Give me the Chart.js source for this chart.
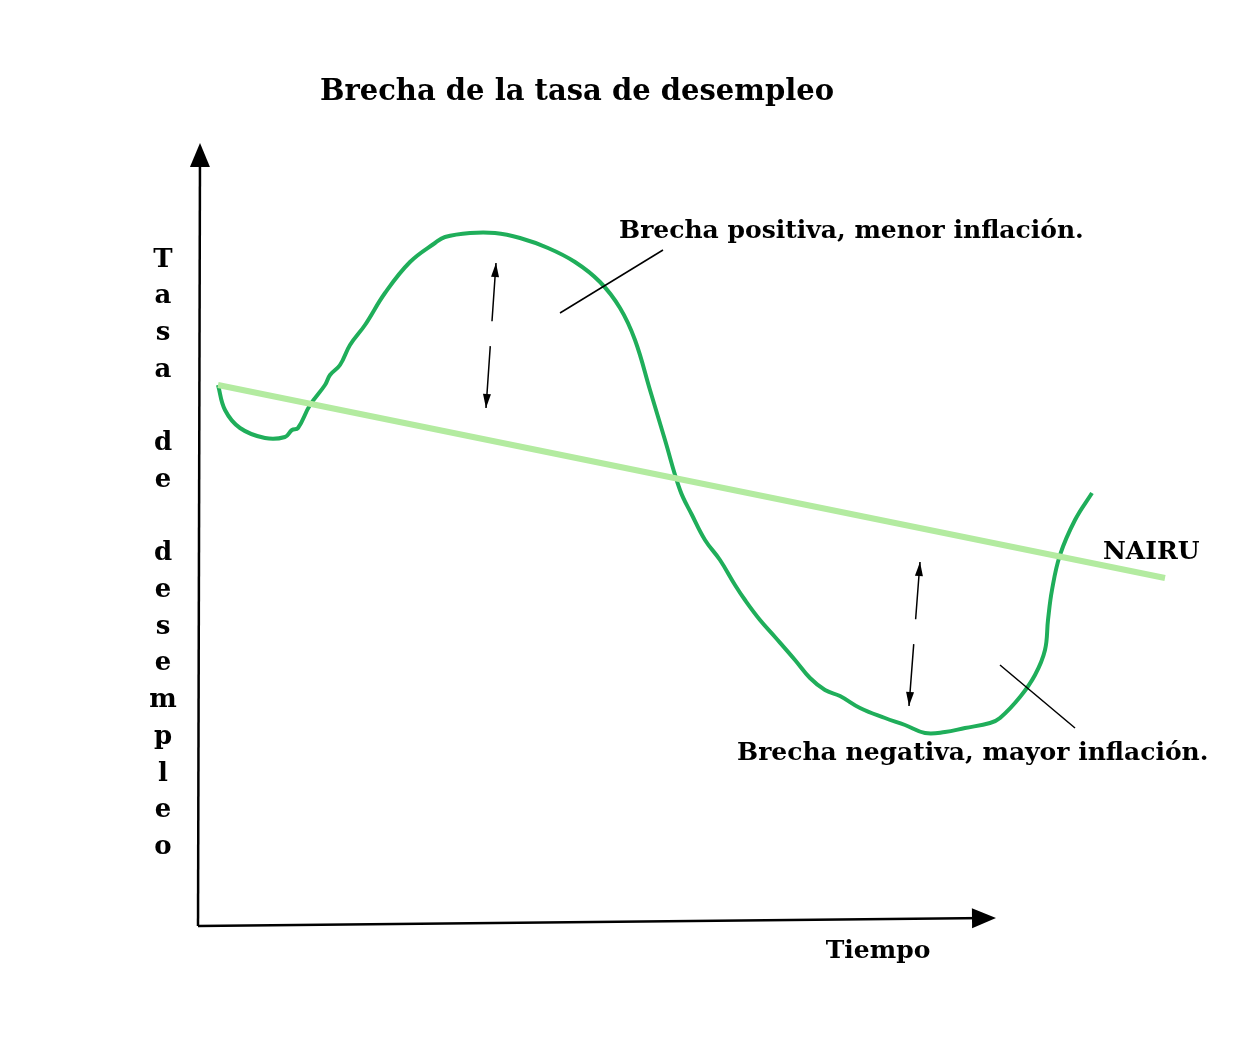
<!DOCTYPE html>
<html><head><meta charset="utf-8">
<script src="https://cdn.jsdelivr.net/npm/chart.js@4"></script>
<style>body{margin:0;background:#fff}</style>
</head><body>
<canvas id="c" width="1242" height="1048"></canvas>
<script>
// Tiempo vs tasa (unidades arbitrarias)
const curveX = [20,27,42,67,87,94,100,112,127,132,142,152,167,187,212,237,247,272,297,322,350,377,402,422,437,452,467,482,494,507,522,537,547,562,577,597,612,627,642,662,687,707,727,747,767,792,802,822,837,847,850,854,862,877,894];
const curveY = [540,515,497,487,488,495,497,520,540,550,560,580,600,632,663,682,688,692,692,687,677,663,643,617,585,535,485,435,410,385,365,340,325,305,288,265,247,235,229,217,207,200,192,193,197,202,207,228,250,275,305,335,370,405,432];
const nairuX = [20,967];
const nairuY = [540,347];
const gapArrows = [[288,517,298,662],[711,219,722,363]];
const pointers = [[362,612,465,675],[802,260,877,197]];

const serif = '"DejaVu Serif", "Liberation Serif", serif';

const drawing = {
  id: 'drawing',
  afterDatasetsDraw(chart) {
    const ctx = chart.ctx, sx = chart.scales.x, sy = chart.scales.y;
    const X = v => sx.getPixelForValue(v), Y = v => sy.getPixelForValue(v);
    ctx.save();
    ctx.strokeStyle = '#000'; ctx.fillStyle = '#000';
    function head(x1, y1, x2, y2, len, w) {
      const a = Math.atan2(y2 - y1, x2 - x1);
      ctx.beginPath();
      ctx.moveTo(x2, y2);
      ctx.lineTo(x2 - len * Math.cos(a) + w * Math.sin(a), y2 - len * Math.sin(a) - w * Math.cos(a));
      ctx.lineTo(x2 - len * Math.cos(a) - w * Math.sin(a), y2 - len * Math.sin(a) + w * Math.cos(a));
      ctx.closePath(); ctx.fill();
    }
    // axes
    ctx.lineWidth = 2.5;
    ctx.beginPath(); ctx.moveTo(198, 926); ctx.lineTo(200, 150); ctx.stroke();
    head(198, 926, 200, 143, 24, 10);
    ctx.beginPath(); ctx.moveTo(198, 926); ctx.lineTo(988, 918); ctx.stroke();
    head(198, 926, 996, 918, 24, 10);
    // gap arrows
    ctx.lineWidth = 1.5;
    gapArrows.forEach(([x1, y1, x2, y2]) => {
      const p1 = [X(x1), Y(y1)], p2 = [X(x2), Y(y2)];
      ctx.setLineDash([62, 25]);
      ctx.beginPath(); ctx.moveTo(p1[0], p1[1]); ctx.lineTo(p2[0], p2[1]); ctx.stroke();
      ctx.setLineDash([]);
      head(p2[0], p2[1], p1[0], p1[1], 14, 4);
      head(p1[0], p1[1], p2[0], p2[1], 14, 4);
    });
    pointers.forEach(([x1, y1, x2, y2]) => {
      ctx.beginPath(); ctx.moveTo(X(x1), Y(y1)); ctx.lineTo(X(x2), Y(y2)); ctx.stroke();
    });
    // texts
    ctx.textBaseline = 'middle';
    ctx.font = 'bold 29px ' + serif;
    ctx.textAlign = 'center';
    ctx.fillText('Brecha de la tasa de desempleo', 577, 92);
    ctx.font = 'bold 25px ' + serif;
    ctx.textAlign = 'left';
    ctx.fillText('Brecha positiva, menor inflación.', 619, 231);
    ctx.fillText('NAIRU', 1103, 552);
    ctx.fillText('Brecha negativa, mayor inflación.', 737, 753);
    ctx.textAlign = 'center';
    ctx.fillText('Tiempo', 878, 951);
    ctx.font = 'bold 26px ' + serif;
    'Tasa de desempleo'.split('').forEach((ch, i) => ctx.fillText(ch, 163, 260 + i * 36.7));
    ctx.restore();
  }
};

new Chart(document.getElementById('c'), {
  type: 'scatter',
  data: {
    datasets: [
      { data: nairuX.map((x, i) => ({ x, y: nairuY[i] })), showLine: true, borderColor: '#b3eba0', borderWidth: 6, pointRadius: 0 },
      { data: curveX.map((x, i) => ({ x, y: curveY[i] })), showLine: true, borderColor: '#1fae5a', borderWidth: 4, pointRadius: 0, tension: 0.4 }
    ]
  },
  options: {
    responsive: false, animation: false, devicePixelRatio: 1,
    layout: { padding: { left: 198, right: 60, top: 145, bottom: 123 } },
    plugins: { legend: { display: false }, tooltip: { enabled: false } },
    scales: {
      x: { type: 'linear', min: 0, max: 984, display: false },
      y: { type: 'linear', min: 0, max: 780, display: false }
    }
  },
  plugins: [drawing]
});
</script>
</body></html>
